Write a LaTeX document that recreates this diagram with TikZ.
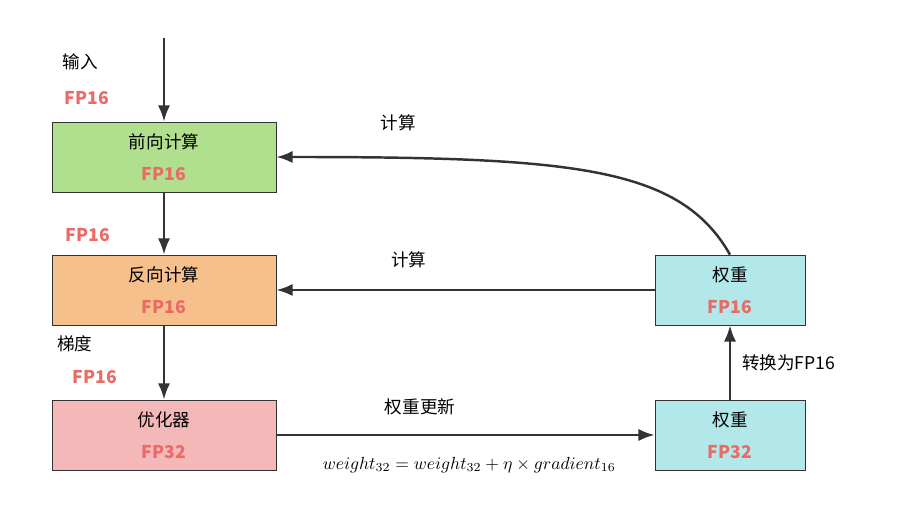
\documentclass[tikz,border=0pt]{standalone}
\usepackage{fontspec}
\setmainfont{Noto Sans CJK SC}
\usetikzlibrary{arrows.meta,positioning}
\definecolor{fpred}{HTML}{EA6B66}
\definecolor{fwdgreen}{HTML}{B0E08D}
\definecolor{bwdorange}{HTML}{F5C08C}
\definecolor{optpink}{HTML}{F4B8B8}
\definecolor{wcyan}{HTML}{B2E8EA}
\begin{document}
\begin{tikzpicture}[
    block/.style={
        rectangle,
        draw=black!80,
        minimum width=4.48cm,
        minimum height=1.4cm,
        align=center,
        font=\normalsize\linespread{1.5}\selectfont
    },
    wblock/.style={block, minimum width=3cm, fill=wcyan},
    arrow/.style={-Latex, line width=1.4pt, draw=black!80},
    fp/.style={text=fpred, font=\bfseries}
]
\useasboundingbox (0,0) rectangle (17.98,10.34);

% Main nodes
\node[block, fill=fwdgreen] (fwd) at (3.28,7.20) {前向计算\\{\color{fpred}\bfseries FP16}};
\node[block, fill=bwdorange] (bwd) at (3.28,4.54) {反向计算\\{\color{fpred}\bfseries FP16}};
\node[block, fill=optpink] (opt) at (3.28,1.64) {优化器\\{\color{fpred}\bfseries FP32}};
\node[wblock] (w16) at (14.6,4.54) {权重\\{\color{fpred}\bfseries FP16}};
\node[wblock] (w32) at (14.6,1.64) {权重\\{\color{fpred}\bfseries FP32}};
\coordinate (in) at (3.28,9.58);

% Side labels
\node (inlbl) at (1.6,9.10) {输入};
\node[fp] (infp) at (1.74,8.38) {FP16};
\node[fp] (actfp) at (1.76,5.64) {FP16};
\node (gradlbl) at (1.5,3.46) {梯度};
\node[fp] (gradfp) at (1.9,2.8) {FP16};

% Arrows
\draw[arrow] (in) -- (fwd);
\draw[arrow] (fwd) -- (bwd);
\draw[arrow] (bwd) -- (opt);
\draw[arrow] (opt) -- node[above=0.25cm, pos=0.38] {权重更新}
    node[below=0.3cm, pos=0.51] {$weight_{32}=weight_{32}+\eta\times gradient_{16}$} (w32);
\draw[arrow] (w32) -- node[right=0.1cm] {转换为FP16} (w16);
\draw[arrow] (w16) -- node[above=0.3cm, pos=0.65] {计算} (bwd);
\draw[arrow] (w16.north) .. controls (13.6,7.0) and (11.5,7.2) .. node[above=0.4cm, pos=0.85] {计算} (fwd.east);

\end{tikzpicture}
\end{document}
